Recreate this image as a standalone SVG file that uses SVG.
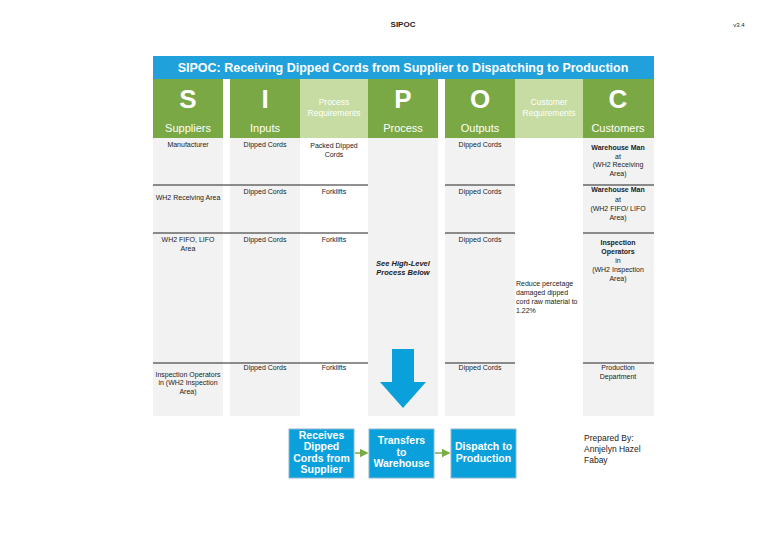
<svg xmlns="http://www.w3.org/2000/svg" width="768" height="543" viewBox="0 0 768 543">
<style>
text{font-family:"Liberation Sans",Arial,sans-serif;fill:#222}
.s{font-size:7px;text-anchor:middle}
.g{fill:#79a844}.lg{fill:#c6dca2}.gy{fill:#f2f2f2}
.big{font-size:26px;font-weight:bold;fill:#fff;text-anchor:middle}
.hd{font-size:11px;fill:#fff;text-anchor:middle}
.ph{font-size:8.5px;fill:#fff;text-anchor:middle}
.ln{stroke:#222;stroke-width:1}
.bx{fill:#0aa0dc;stroke:#8fb8d0;stroke-width:1}
.bt{font-size:10.5px;font-weight:bold;fill:#fff;text-anchor:middle}
</style>
<defs><marker id="ah" markerWidth="6" markerHeight="6" refX="5" refY="3" orient="auto"><path d="M0,0L6,3L0,6z" fill="#7aab45"/></marker></defs>
<rect width="768" height="543" fill="#fff"/>
<text x="403" y="27" style="font-size:8px;font-weight:bold" text-anchor="middle">SIPOC</text>
<text x="739" y="27" style="font-size:6px" text-anchor="middle">v3.4</text>
<g id="title"><rect x="153" y="56" width="501" height="23" fill="#20a1dc"/>
<text x="403" y="72" style="font-size:12.5px;font-weight:bold;fill:#fff" text-anchor="middle">SIPOC: Receiving Dipped Cords from Supplier to Dispatching to Production</text></g>
<g id="columns">
<rect class="gy" x="153" y="138" width="70" height="278"/>
<rect class="gy" x="230" y="138" width="70" height="278"/>
<rect class="gy" x="368" y="138" width="70" height="278"/>
<rect class="gy" x="445" y="138" width="70" height="278"/>
<rect class="gy" x="583" y="138" width="71" height="278"/>
<rect class="g" x="153" y="79" width="70" height="59"/>
<rect class="g" x="230" y="79" width="70" height="59"/>
<rect class="lg" x="300" y="79" width="68" height="59"/>
<rect class="g" x="368" y="79" width="70" height="59"/>
<rect class="g" x="445" y="79" width="70" height="59"/>
<rect class="lg" x="515" y="79" width="68" height="59"/>
<rect class="g" x="583" y="79" width="71" height="59"/>
<text class="big" x="188" y="108">S</text><text class="hd" x="188" y="132">Suppliers</text>
<text class="big" x="265" y="108">I</text><text class="hd" x="265" y="132">Inputs</text>
<text class="ph" x="334" y="105">Process</text><text class="ph" x="334" y="116">Requirements</text>
<text class="big" x="403" y="108">P</text><text class="hd" x="403" y="132">Process</text>
<text class="big" x="480" y="108">O</text><text class="hd" x="480" y="132">Outputs</text>
<text class="ph" x="549" y="105">Customer</text><text class="ph" x="549" y="116">Requirements</text>
<text class="big" x="618" y="108">C</text><text class="hd" x="618" y="132">Customers</text>
</g>
<g id="lines">
<path class="ln" d="M153,185H368M153,233H368M153,363H368M445,185H515M445,233H515M445,363H515M583,185H654M583,233H654M583,363H654"/>
</g>
<g id="cells">
<text class="s" x="188" y="147">Manufacturer</text>
<text class="s" x="188" y="200">WH2 Receiving Area</text>
<text class="s" x="188" y="242">WH2 FIFO, LIFO</text><text class="s" x="188" y="251">Area</text>
<text class="s" x="188" y="377">Inspection Operators</text><text class="s" x="188" y="385">in (WH2 Inspection</text><text class="s" x="188" y="394">Area)</text>
<text class="s" x="265" y="147">Dipped Cords</text><text class="s" x="265" y="194">Dipped Cords</text><text class="s" x="265" y="242">Dipped Cords</text><text class="s" x="265" y="370">Dipped Cords</text>
<text class="s" x="334" y="148">Packed Dipped</text><text class="s" x="334" y="157">Cords</text>
<text class="s" x="334" y="194">Forklifts</text><text class="s" x="334" y="242">Forklifts</text><text class="s" x="334" y="370">Forklifts</text>
<text x="403" y="266" style="font-size:7.5px;font-weight:bold;font-style:italic" text-anchor="middle">See High-Level</text>
<text x="403" y="275" style="font-size:7.5px;font-weight:bold;font-style:italic" text-anchor="middle">Process Below</text>
<text class="s" x="480" y="147">Dipped Cords</text><text class="s" x="480" y="194">Dipped Cords</text><text class="s" x="480" y="242">Dipped Cords</text><text class="s" x="480" y="370">Dipped Cords</text>
<text x="516" y="286" style="font-size:7px">Reduce percetage</text>
<text x="516" y="295" style="font-size:7px">damaged dipped</text>
<text x="516" y="304" style="font-size:7px">cord  raw material  to</text>
<text x="516" y="313" style="font-size:7px">1.22%</text>
<text class="s" x="618" y="150" style="font-weight:bold">Warehouse Man</text><text class="s" x="618" y="159">at</text><text class="s" x="618" y="167">(WH2 Receiving</text><text class="s" x="618" y="176">Area)</text>
<text class="s" x="618" y="192" style="font-weight:bold">Warehouse Man</text><text class="s" x="618" y="202">at</text><text class="s" x="618" y="211">(WH2 FIFO/ LIFO</text><text class="s" x="618" y="220">Area)</text>
<text class="s" x="618" y="245" style="font-weight:bold">Inspection</text><text class="s" x="618" y="254" style="font-weight:bold">Operators</text><text class="s" x="618" y="263">in</text><text class="s" x="618" y="272">(WH2 Inspection</text><text class="s" x="618" y="281">Area)</text>
<text class="s" x="618" y="370">Production</text><text class="s" x="618" y="379">Department</text>
</g>
<g id="bigarrow"><path d="M392,349H414V382H426L403,408L380,382H392Z" fill="#0aa0dc"/></g>
<g id="connectors">
<line x1="355" y1="453" x2="367" y2="453" stroke="#7aab45" stroke-width="1.5" marker-end="url(#ah)"/>
<line x1="435" y1="453" x2="449" y2="453" stroke="#7aab45" stroke-width="1.5" marker-end="url(#ah)"/>
</g>
<g id="n1"><rect class="bx" x="289" y="429" width="65" height="49"/>
<text class="bt" x="321.5" y="439">Receives</text><text class="bt" x="321.5" y="450">Dipped</text><text class="bt" x="321.5" y="462">Cords from</text><text class="bt" x="321.5" y="473">Supplier</text></g>
<g id="n2"><rect class="bx" x="369" y="429" width="65" height="49"/>
<text class="bt" x="401.5" y="444">Transfers</text><text class="bt" x="401.5" y="456">to</text><text class="bt" x="401.5" y="467">Warehouse</text></g>
<g id="n3"><rect class="bx" x="451" y="429" width="65" height="49"/>
<text class="bt" x="483.5" y="450">Dispatch to</text><text class="bt" x="483.5" y="462">Production</text></g>
<g id="prep"><text x="584" y="441" style="font-size:8.5px">Prepared By:</text><text x="584" y="452" style="font-size:8.5px">Annjelyn Hazel</text><text x="584" y="463" style="font-size:8.5px">Fabay</text></g>
</svg>
